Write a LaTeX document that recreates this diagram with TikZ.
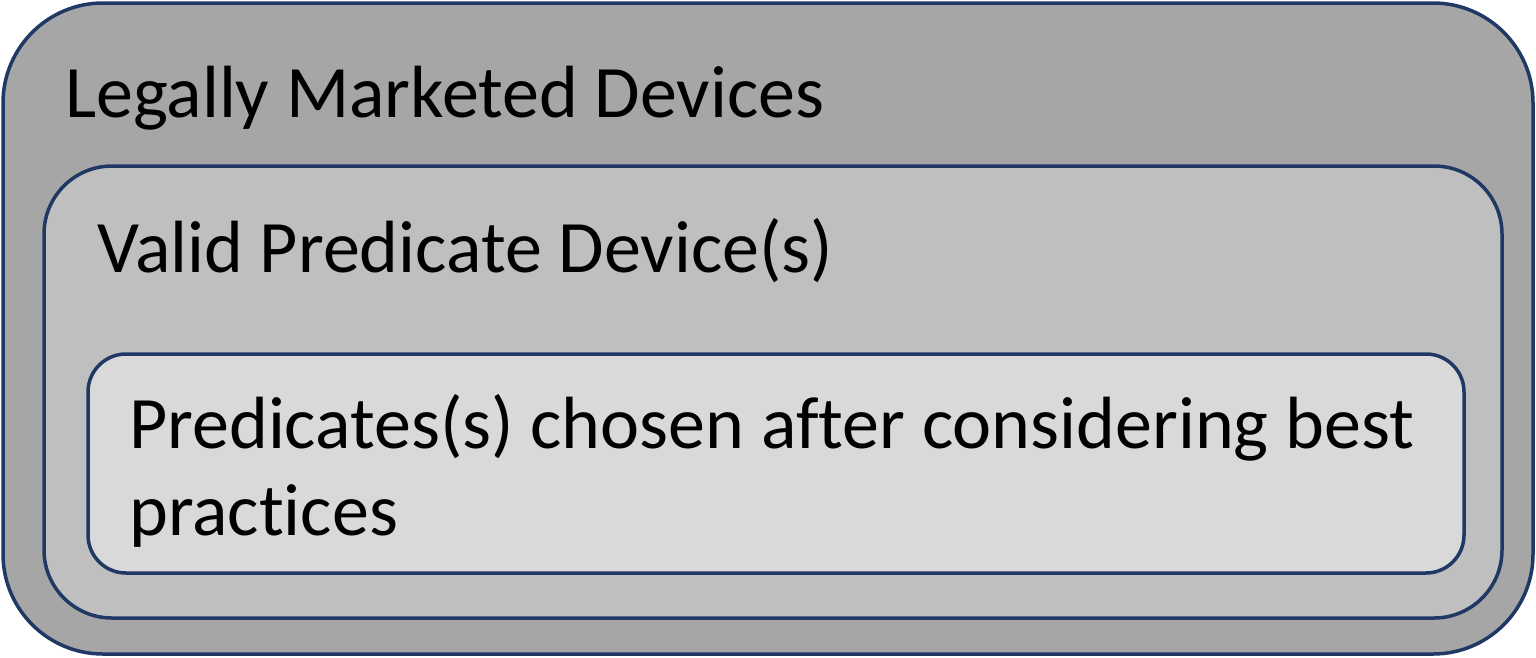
\documentclass[tikz,border=0pt]{standalone}
\usepackage{fontspec}
\setmainfont[Ligatures={NoCommon}]{Carlito}
\definecolor{navy}{HTML}{1F3864}
\definecolor{g1}{HTML}{A6A6A6}
\definecolor{g2}{HTML}{BFBFBF}
\definecolor{g3}{HTML}{D9D9D9}
\begin{document}
\begin{tikzpicture}[x=1pt,y=-1pt,
  box/.style={draw=navy,line width=3.5pt,rectangle,anchor=north west,inner sep=0pt,outer sep=0pt},
  lbl/.style={anchor=base west,inner sep=0pt,font=\fontsize{74}{87}\selectfont,text=black}]
\useasboundingbox (0,0) rectangle (1536,657);
\node[box,fill=g1,rounded corners=100pt,minimum width=1530pt,minimum height=651pt] (outer) at (3,3) {};
\node[box,fill=g2,rounded corners=68pt,minimum width=1458pt,minimum height=452pt] (middle) at (44,166) {};
\node[box,fill=g3,rounded corners=38pt,minimum width=1376pt,minimum height=219pt] (inner) at (88,354) {};
\node[lbl] (t1) at (65,117) {Legally Marketed Devices};
\node[lbl] (t2) at (97,272) {Valid Predicate Device(s)};
\node[lbl,align=left] (t3) at (129,535) {Predicates(s) chosen after considering best\\practices};
\end{tikzpicture}
\end{document}
